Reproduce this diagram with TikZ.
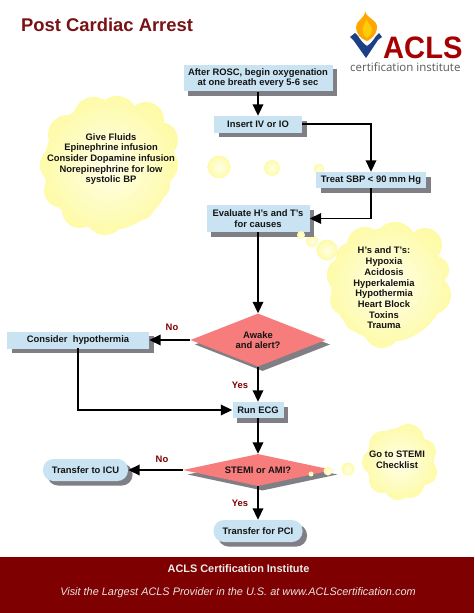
\documentclass[tikz,border=0pt]{standalone}
\usepackage{fontspec}
\setmainfont{Liberation Sans}
\newfontfamily\logofont{Open Sans}
\usetikzlibrary{arrows.meta,shapes.geometric,shadows}
\definecolor{boxblue}{HTML}{C9E3F2}
\definecolor{shadowgray}{HTML}{7F7F85}
\definecolor{dia}{HTML}{F77C7C}
\definecolor{wine}{HTML}{7F0000}
\definecolor{titlered}{HTML}{7A1114}
\definecolor{cloudy}{HTML}{FEFBA8}
\definecolor{cloudw}{HTML}{FFFEE8}
\definecolor{logoblue}{HTML}{1C3F86}
\tikzset{
  lab/.style={font=\fontsize{9.4}{10.7}\selectfont\bfseries,text=black!92,align=center,inner sep=0pt},
  sh/.style={drop shadow={shadow xshift=4.5pt,shadow yshift=-4.5pt,fill=shadowgray,opacity=1}},
  stepbox/.style={lab,rectangle,fill=boxblue,sh},
  pill/.style={lab,rectangle,rounded corners=10.5pt,fill=boxblue,sh},
  dec/.style={lab,diamond,fill=dia,sh},
  flow/.style={line width=1.8pt,-{Triangle[length=11.5pt,width=10.5pt]}},
  yn/.style={font=\fontsize{9.4}{11}\selectfont\bfseries,text=wine,inner sep=0pt},
  bub/.style={inner color=cloudw,outer color=cloudy}
}
\newcommand{\bubble}[3]{\shade[bub] (#1,#2) circle[radius=#3];}
\begin{document}
\begin{tikzpicture}[x=1pt,y=-1pt]
\useasboundingbox (0,0) rectangle (474,613);
\fill[white] (0,0) rectangle (474,613);
% title
\node[anchor=base west,inner sep=0pt,text=titlered,font=\fontsize{18.4}{20}\selectfont\bfseries] (title) at (21,31) {Post Cardiac Arrest};
% logo
\fill[orange!70!yellow] (365,11) .. controls (366,18) and (378,20) .. (377,28) .. controls (376,36) and (371,39) .. (367,41) .. controls (361,39) and (356,34) .. (356,27) .. controls (356,20) and (365,19) .. (365,11) -- cycle;
\fill[yellow!65!orange] (366,19) .. controls (368,24) and (373,26) .. (372,31) .. controls (371,35) and (368,37) .. (367,38) .. controls (363,36) and (362,31) .. (363,27) .. controls (364,24) and (366,23) .. (366,19) -- cycle;
\fill[logoblue] (350,37) -- (355,33) -- (358,36) .. controls (361,41) and (364,44) .. (367,46) .. controls (370,44) and (373,41) .. (376,36) -- (379,33) -- (382,37) -- (378,40) -- (366,58) -- (354,41) -- cycle;
\node[anchor=base west,inner sep=0pt,text=red!65!black,font=\fontsize{31}{31}\selectfont\bfseries,xscale=.94] (acls) at (383,58) {ACLS};
\node[anchor=base west,inner sep=0pt,text=black!65,font=\fontsize{11.5}{12}\logofont] (cert) at (350,71) {certification institute};
% clouds
\shade[bub] (108,166) circle[radius=64] (94,118) circle[radius=21] (117,116) circle[radius=20] (146,120) circle[radius=18] (160,140) circle[radius=18] (158,165) circle[radius=20] (155,185) circle[radius=15] (140,205) circle[radius=15] (120,212) circle[radius=17] (105,215) circle[radius=20] (80,210) circle[radius=18] (62,190) circle[radius=18] (58,165) circle[radius=18] (68,135) circle[radius=20];
\shade[bub] (388,285) circle[radius=57] (365,245) circle[radius=18] (395,243) circle[radius=21] (425,245) circle[radius=17] (435,270) circle[radius=14] (432,295) circle[radius=19] (420,312) circle[radius=15] (400,325) circle[radius=14] (382,330) circle[radius=18] (358,318) circle[radius=14] (345,300) circle[radius=15] (345,275) circle[radius=18] (352,258) circle[radius=16];
\shade[bub] (400,462) circle[radius=34] (383,445) circle[radius=14] (408,440) circle[radius=16] (423,452) circle[radius=13] (424,472) circle[radius=13] (410,484) circle[radius=14] (398,486) circle[radius=14] (382,480) circle[radius=13] (375,462) circle[radius=13];
\bubble{219}{167}{11.5}
\bubble{272}{168}{8}
\bubble{319}{169}{5.5}
\bubble{312}{241}{6}
\bubble{327}{250}{10.5}
\bubble{348}{469}{6.5}
% cloud text
\node[lab] (c1) at (111,159) {Give Fluids\\Epinephrine infusion\\Consider Dopamine infusion\\Norepinephrine for low\\systolic BP};
\node[lab] (c2) at (384,288) {H's and T's:\\Hypoxia\\Acidosis\\Hyperkalemia\\Hypothermia\\Heart Block\\Toxins\\Trauma};
\node[lab] (c3) at (397,460) {Go to STEMI\\Checklist};
% nodes
\node[stepbox,minimum width=149pt,minimum height=26.5pt] (rosc) at (258,78.2) {After ROSC, begin oxygenation\\at one breath every 5-6 sec};
\node[stepbox,minimum width=88pt,minimum height=16.5pt] (iv) at (258,124.3) {Insert IV or IO};
\node[stepbox,minimum width=110pt,minimum height=16pt] (sbp) at (371,180) {Treat SBP < 90 mm Hg};
\node[stepbox,minimum width=103pt,minimum height=27pt] (eval) at (258,218.5) {Evaluate H's and T's\\for causes};
\node[dec,minimum width=135pt,minimum height=53pt,aspect=2.5] (awake) at (258,340) {Awake\\and alert?};
\node[stepbox,minimum width=142pt,minimum height=17pt] (hypo) at (78,340) {Consider\ \ hypothermia};
\node[stepbox,minimum width=51pt,minimum height=16pt] (ecg) at (258,410) {Run ECG};
\node[dec,minimum width=150pt,minimum height=32pt,aspect=4.7] (stemi) at (258,470) {STEMI or AMI?};
\node[pill,minimum width=85pt,minimum height=22pt] (icu) at (85.5,470) {Transfer to ICU};
\node[pill,minimum width=89pt,minimum height=22pt] (pci) at (258,531) {Transfer for PCI};
% small bubbles over shapes
\bubble{301}{235}{4}
\bubble{328}{471}{4.5}
\bubble{311}{474}{2.5}
% connectors
\coordinate (hypob) at (78,348);
\draw[flow] (rosc.south) -- (iv.north);
\draw[flow] (iv.east) -| (sbp.north);
\draw[flow] (sbp.south) |- (eval.east);
\draw[flow] (eval.south) -- (awake.north);
\draw[flow] (awake.west) -- (hypo.east);
\draw[flow] (awake.south) -- (ecg.north);
\draw[flow] (hypob) |- (ecg.west);
\draw[flow] (ecg.south) -- (stemi.north);
\draw[flow] (stemi.west) -- (icu.east);
\draw[flow] (stemi.south) -- (pci.north);
% branch labels
\node[yn] (n1) at (172,327) {No};
\node[yn] (y1) at (240,385) {Yes};
\node[yn] (n2) at (162,459) {No};
\node[yn] (y2) at (240,503) {Yes};
% footer
\fill[wine] (0,556.5) rectangle (474,613);
\node[inner sep=0pt,text=white!93!black,font=\fontsize{10.9}{12}\selectfont\bfseries] (f1) at (238.5,569) {ACLS Certification Institute};
\node[inner sep=0pt,text=white!90!black,font=\fontsize{10.9}{12}\selectfont\itshape] (f2) at (238,593) {Visit the Largest ACLS Provider in the U.S. at www.ACLScertification.com};
\end{tikzpicture}
\end{document}
